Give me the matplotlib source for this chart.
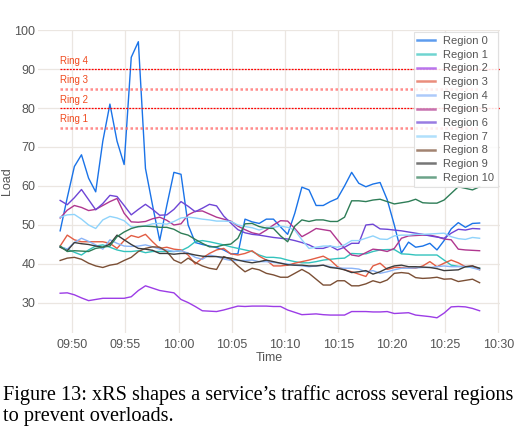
import matplotlib
matplotlib.use("Agg")
import matplotlib.pyplot as plt
import matplotlib.dates as mdates
import pandas as pd

plt.rcParams['font.family'] = ['Liberation Sans', 'DejaVu Sans']

# sample times (one point every 40 s)
times = pd.date_range('2024-01-01 09:48:54', periods=60, freq='40s')

region_0 = [48.5, 57, 65, 68, 62, 58.5, 71.5, 81, 71.5, 65.5, 93, 97, 64.5, 55, 46, 55, 63.5, 63, 50, 45.5,
            45, 44.6, 44.2, 43.6, 42.6, 42.6, 51.5, 50.8, 50.4, 51.5, 51.5, 49.5, 47.6, 53, 59.7, 59, 55, 55, 56, 56.8,
            60, 63.5, 60.7, 59.8, 60.5, 60.9, 56.5, 50, 42.8, 45.6, 44.3, 44.6, 45.3, 43.6, 46, 49, 50.6, 49.4, 50.4, 50.5]
region_1 = [44.4, 43.8, 43.0, 42.3, 43.6, 44.6, 44.9, 44.3, 43.6, 43.2, 43.2, 43.4, 42.9, 43.2, 43.2, 43.2, 43.2, 43.4, 44.3, 45.7,
            46.0, 45.7, 45.3, 44.9, 44.4, 44.0, 43.6, 43.2, 42.3, 41.7, 41.7, 41.5, 41.0, 40.6, 40.3, 40.3, 40.6, 41.0, 41.2, 41.4,
            41.5, 42.7, 42.6, 42.6, 43.2, 43.6, 43.7, 43.7, 42.6, 42.5, 42.3, 42.3, 42.3, 42.3, 41.0, 39.7, 39.4, 39.3, 39.1, 38.9]
region_2 = [32.5, 32.6, 32.1, 31.3, 30.6, 30.9, 31.2, 31.2, 31.2, 31.2, 31.6, 33.2, 34.4, 33.8, 33.2, 32.9, 32.6, 30.9, 30.1, 29.1,
            28.0, 27.9, 27.8, 28.2, 28.7, 29.2, 29.1, 29.2, 29.2, 29.2, 29.1, 29.1, 28.2, 27.6, 27.0, 27.1, 27.2, 27.0, 26.9, 26.9,
            26.9, 27.8, 27.8, 27.8, 27.7, 27.7, 27.8, 27.3, 27.4, 27.5, 26.9, 26.7, 26.5, 26.2, 27.4, 29.0, 29.1, 29.0, 28.6, 28.0]
region_3 = [44.6, 47.4, 46.2, 45.7, 45.7, 45.7, 45.7, 45.3, 44.0, 46.0, 47.3, 46.8, 47.6, 45.7, 44.0, 44.3, 43.8, 43.6, 42.3, 40.0,
            41.5, 42.7, 43.6, 44.0, 42.6, 42.3, 42.7, 43.4, 42.0, 41.0, 39.5, 39.5, 39.7, 40.2, 40.6, 41.0, 41.5, 42.0, 41.0, 39.3,
            38.5, 38.0, 37.4, 36.8, 39.5, 40.2, 38.6, 39.1, 39.1, 38.9, 38.9, 39.5, 40.6, 39.3, 40.2, 41.0, 40.3, 39.3, 39.5, 38.5]
region_4 = [44.4, 43.8, 45.5, 46.6, 45.8, 44.9, 43.8, 46.2, 45.3, 44.6, 44.5, 44.6, 44.9, 44.4, 43.8, 43.6, 43.2, 43.4, 42.8, 41.7,
            41.2, 42.3, 41.9, 41.3, 40.9, 40.9, 40.9, 41.0, 40.6, 40.6, 40.4, 40.2, 40.0, 39.7, 39.5, 39.3, 39.5, 39.7, 39.3, 39.0,
            38.9, 38.9, 38.7, 38.0, 38.3, 37.6, 38.0, 38.5, 38.9, 38.9, 39.0, 39.1, 39.1, 39.3, 39.5, 39.3, 39.3, 39.4, 39.0, 38.5]
region_5 = [51.8, 53.8, 55.0, 54.5, 53.7, 54.0, 55.0, 56.0, 56.8, 53.0, 50.8, 50.7, 50.9, 51.6, 52.0, 51.2, 50.0, 50.3, 52.6, 53.5,
            53.6, 52.8, 52.0, 51.5, 51.0, 49.7, 48.8, 48.0, 47.6, 48.7, 50.0, 51.1, 51.0, 49.1, 47.0, 48.0, 49.1, 48.8, 48.5, 46.2,
            44.0, 42.3, 42.0, 42.9, 43.8, 43.6, 43.2, 44.0, 46.6, 47.2, 47.3, 47.4, 47.4, 47.0, 46.4, 46.2, 43.8, 43.6, 43.5, 43.4]
region_6 = [56.3, 55.2, 57.0, 59.1, 56.5, 53.9, 55.5, 57.6, 57.3, 55.0, 52.6, 54.0, 55.3, 54.0, 52.5, 52.6, 54.0, 56.0, 54.8, 53.4,
            54.3, 55.3, 54.9, 52.3, 50.5, 48.8, 48.0, 47.6, 47.4, 47.1, 46.8, 46.6, 46.4, 46.0, 45.5, 44.9, 44.0, 44.0, 44.6, 43.6,
            44.3, 45.3, 45.3, 50.0, 50.2, 49.0, 48.9, 48.7, 48.5, 48.2, 47.9, 47.6, 47.2, 46.9, 46.6, 47.9, 48.9, 48.7, 49.1, 49.0]
region_7 = [52.0, 52.6, 52.7, 51.5, 50.0, 49.1, 51.3, 52.2, 51.8, 51.1, 49.5, 49.5, 49.8, 50.3, 50.4, 50.2, 50.9, 51.8, 52.0, 51.8,
            51.5, 51.3, 51.0, 51.0, 50.9, 50.0, 49.6, 49.3, 48.7, 49.4, 49.4, 49.7, 49.4, 48.7, 46.2, 44.0, 44.3, 44.6, 44.6, 44.3,
            44.9, 46.0, 46.0, 46.6, 47.2, 46.4, 46.3, 47.2, 47.4, 47.4, 47.6, 47.6, 47.7, 47.8, 47.9, 47.0, 46.5, 46.3, 46.8, 46.6]
region_8 = [40.9, 41.5, 41.7, 41.2, 40.2, 39.5, 39.1, 39.7, 40.0, 40.9, 41.7, 43.2, 44.0, 44.4, 44.3, 43.2, 41.0, 40.2, 41.5, 40.4,
            39.5, 38.9, 38.6, 41.9, 41.2, 39.5, 38.0, 38.9, 38.5, 37.6, 37.2, 36.6, 36.6, 37.6, 38.6, 37.6, 36.1, 34.6, 34.6, 35.7,
            35.7, 34.4, 34.4, 34.9, 35.7, 35.2, 35.9, 37.6, 37.8, 37.6, 36.5, 36.3, 36.4, 36.6, 36.1, 36.2, 35.5, 35.8, 36.1, 35.2]
region_9 = [44.3, 43.4, 45.5, 45.2, 45.0, 44.6, 44.3, 45.1, 47.4, 46.2, 45.0, 44.0, 43.8, 43.5, 42.7, 42.7, 42.5, 42.7, 42.7, 42.3,
            42.0, 41.9, 41.9, 41.7, 41.5, 41.0, 40.6, 40.3, 40.6, 41.0, 40.6, 40.2, 39.8, 39.7, 39.7, 39.5, 39.5, 39.7, 39.1, 38.9,
            38.5, 37.8, 38.0, 38.3, 37.4, 38.0, 38.9, 39.5, 39.7, 39.3, 39.3, 39.2, 39.1, 38.8, 38.3, 38.4, 38.5, 39.3, 39.5, 38.9]
region_10 = [44.6, 43.2, 43.4, 43.3, 43.2, 44.0, 44.3, 44.6, 47.0, 48.2, 49.1, 49.6, 49.7, 49.6, 49.4, 49.4, 48.9, 47.9, 47.4, 46.3,
             45.3, 44.4, 44.4, 44.9, 45.1, 46.6, 50.3, 50.4, 49.6, 49.2, 49.1, 47.2, 45.7, 49.7, 51.3, 50.9, 51.3, 51.3, 50.9, 50.9,
             52.0, 56.2, 56.2, 56.0, 56.4, 56.6, 56.0, 55.4, 55.7, 56.0, 56.6, 55.7, 55.6, 55.6, 56.4, 58.1, 59.8, 59.4, 59.0, 59.8]

regions = [region_0, region_1, region_2, region_3, region_4, region_5,
           region_6, region_7, region_8, region_9, region_10]
colors = ['#1a73e8', '#33c3bd', '#9c3ce6', '#e25d44', '#8ab4f8', '#b0378f',
          '#6e45d6', '#8fd3fb', '#7b4f35', '#3c3c3c', '#2e7d57']

ring_names = ['Ring 1', 'Ring 2', 'Ring 3', 'Ring 4']
ring_levels = [75, 80, 85, 90]

fig = plt.figure(figsize=(5.15, 4.44), dpi=100)
ax = fig.add_axes([0.074, 0.25, 0.897, 0.6824])

for i, vals in enumerate(regions):
    ax.plot(times, vals, color=colors[i], lw=1.0, label='Region %d' % i)

# ring thresholds
x_end = pd.Timestamp('2024-01-01 10:30:09')
for name, lvl in zip(ring_names, ring_levels):
    if lvl in (80, 90):
        ax.plot([times[0], x_end], [lvl, lvl], color='#ff0000', lw=0.9, ls=(0, (1.5, 1)))
    else:
        ax.plot([times[0], times[-1]], [lvl, lvl], color='#ff7070', lw=1.8, ls=(0, (1, 1)), alpha=0.8)
    ax.text(times[0], lvl + 0.8, name, fontsize=7, color='#f04a1e', ha='left', va='bottom')

ax.set_xlim(pd.Timestamp('2024-01-01 09:46:50'), x_end)
ax.set_ylim(22.3, 100)
ax.set_yticks([30, 40, 50, 60, 70, 80, 90, 100])
ax.xaxis.set_major_locator(mdates.MinuteLocator(byminute=range(0, 60, 5)))
ax.xaxis.set_major_formatter(mdates.DateFormatter('%H:%M'))

ax.grid(True, color='#ebe6e1', lw=0.9)
ax.set_axisbelow(True)
for s in ax.spines.values():
    s.set_visible(False)
ax.tick_params(length=0, labelsize=9, labelcolor='#555555')
ax.tick_params(axis='y', pad=2)
ax.tick_params(axis='x', pad=4)
ax.set_xlabel('Time', fontsize=9, color='#555555', labelpad=1)
ax.set_ylabel('Load', fontsize=9, color='#555555', labelpad=1)

leg = ax.legend(loc='upper right', fontsize=8, handlelength=1.6, handletextpad=0.7, labelspacing=0.33,
                borderaxespad=0.2, framealpha=0.85, fancybox=False, borderpad=0.35)
leg.get_frame().set_edgecolor('#dddddd')
leg.get_frame().set_linewidth(0.8)
for t in leg.get_texts():
    t.set_color('#555555')
for h in leg.get_lines():
    h.set_linewidth(1.8)
    h.set_alpha(0.7)

fig.text(0.006, 0.052, "Figure 13: xRS shapes a service\u2019s traffic across several regions\nto prevent overloads.",
         family='Liberation Serif', fontsize=14.6, color='black', ha='left', va='baseline', linespacing=1.13)

fig.savefig('out.png', dpi=100)
